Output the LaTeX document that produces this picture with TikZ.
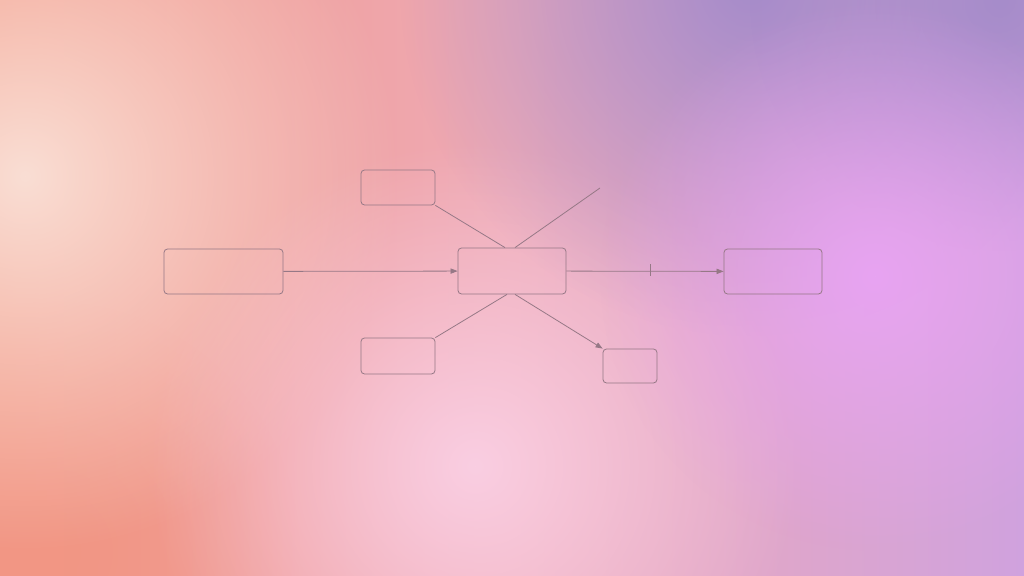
\documentclass[tikz,border=0pt]{standalone}
\usetikzlibrary{arrows.meta,fadings}

\definecolor{peach}{RGB}{250,222,212}
\definecolor{salmon}{RGB}{242,150,132}
\definecolor{rosy}{RGB}{238,170,182}
\definecolor{plum}{RGB}{208,162,222}
\definecolor{lilac}{RGB}{166,140,202}
\definecolor{violet}{RGB}{232,164,242}
\definecolor{blush}{RGB}{250,206,226}
\definecolor{edge}{RGB}{150,120,134}

\tikzfading[name=glow, inner color=transparent!0, outer color=transparent!100]

\tikzset{
    box/.style={draw=edge, rounded corners=2pt, line width=0.45pt, inner sep=0pt},
    link/.style={draw=edge, line width=0.45pt},
    tip/.style={-{Triangle[length=4pt, width=3pt]}},
}

\begin{document}
\begin{tikzpicture}
        % background
        \useasboundingbox (0, 0) rectangle (20.48, 11.52);
        \shade[left color=salmon, right color=plum, middle color=rosy] (0, 0) rectangle (20.48, 11.52);
        \fill[salmon, path fading=glow] (1, 0.5) circle (5);
        \fill[peach, path fading=glow] (0.5, 8) circle (7.5);
        \fill[blush, path fading=glow] (9.5, 2.2) circle (6.5);
        \fill[lilac, path fading=glow] (15, 11.8) circle (7);
        \fill[lilac, path fading=glow] (20, 11.5) circle (5);
        \fill[violet, path fading=glow] (17.5, 6) circle (5.5);

        % boxes
        \node[box, minimum width=2.38cm, minimum height=0.9cm] (src) at (4.47, 6.09) {};
        \node[box, minimum width=2.16cm, minimum height=0.92cm] (hub) at (10.24, 6.10) {};
        \node[box, minimum width=1.96cm, minimum height=0.9cm] (out) at (15.46, 6.09) {};
        \node[box, minimum width=1.48cm, minimum height=0.7cm] (up) at (7.96, 7.77) {};
        \node[box, minimum width=1.48cm, minimum height=0.72cm] (down) at (7.96, 4.4) {};
        \node[box, minimum width=1.08cm, minimum height=0.68cm] (leaf) at (12.6, 4.2) {};
        \coordinate (free) at (12.0, 7.76);
        \coordinate (mark) at (13.0, 6.12);

        % links
        \draw[link, tip] (src) -- (hub);
        \draw[link, tip] (hub) -- (out);
        \draw[link] ([yshift=-0.12cm]mark) -- ([yshift=0.12cm]mark);
        \draw[link] (up.south east) -- ([xshift=-0.14cm]hub.north);
        \draw[link] ([xshift=0.06cm]hub.north) -- (free);
        \draw[link] (down.north east) -- ([xshift=-0.1cm]hub.south);
        \draw[link, tip] ([xshift=0.06cm]hub.south) -- (leaf.north west);
\end{tikzpicture}
\end{document}
